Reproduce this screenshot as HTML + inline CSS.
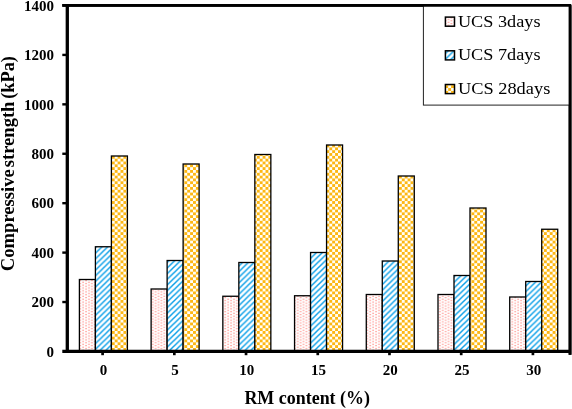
<!DOCTYPE html>
<html lang="en"><head><meta charset="utf-8"><title>UCS vs RM content</title>
<style>html,body{margin:0;padding:0;background:#fff;}body{width:572px;height:409px;overflow:hidden;}svg{display:block;}text{font-family:"Liberation Serif","Times New Roman",serif;fill:#000;}</style>
</head><body>
<svg width="572" height="409" viewBox="0 0 572 409">
<defs>
<pattern id="pd" width="5.8" height="2.825" patternUnits="userSpaceOnUse" x="79.2" y="0.4"><rect width="5.8" height="2.825" fill="#fffefe"/><rect x="0.5" y="0.25" width="1.05" height="0.85" fill="#ff3a2e"/><rect x="3.4" y="1.6625" width="1.05" height="0.85" fill="#ff3a2e"/></pattern>
<pattern id="ps" width="5.8" height="5.65" patternUnits="userSpaceOnUse" x="0" y="1.5"><rect width="5.8" height="5.65" fill="#fff"/><path d="M-5.8,5.65 L5.8,-5.65 M-5.8,11.3 L11.6,-5.65 M0,11.3 L11.6,0" stroke="#0a9fe8" stroke-width="1.45"/></pattern>
<pattern id="pc" width="5.8" height="5.65" patternUnits="userSpaceOnUse" x="1.6" y="0.5"><rect width="5.8" height="5.65" fill="#fdb714"/><rect x="0" y="0" width="2.9" height="2.825" fill="#fffef8"/><rect x="2.9" y="2.825" width="2.9" height="2.825" fill="#fffef8"/></pattern>
</defs>
<rect width="572" height="409" fill="#fff"/>
<rect x="79.40" y="279.50" width="16" height="71.95" fill="url(#pd)" stroke="#000" stroke-width="1.3"/>
<rect x="95.40" y="246.75" width="16" height="104.70" fill="url(#ps)" stroke="#000" stroke-width="1.3"/>
<rect x="111.40" y="156.00" width="16" height="195.45" fill="url(#pc)" stroke="#000" stroke-width="1.3"/>
<rect x="151.12" y="289.00" width="16" height="62.45" fill="url(#pd)" stroke="#000" stroke-width="1.3"/>
<rect x="167.12" y="260.50" width="16" height="90.95" fill="url(#ps)" stroke="#000" stroke-width="1.3"/>
<rect x="183.12" y="164.00" width="16" height="187.45" fill="url(#pc)" stroke="#000" stroke-width="1.3"/>
<rect x="222.84" y="296.25" width="16" height="55.20" fill="url(#pd)" stroke="#000" stroke-width="1.3"/>
<rect x="238.84" y="262.50" width="16" height="88.95" fill="url(#ps)" stroke="#000" stroke-width="1.3"/>
<rect x="254.84" y="154.50" width="16" height="196.95" fill="url(#pc)" stroke="#000" stroke-width="1.3"/>
<rect x="294.56" y="295.75" width="16" height="55.70" fill="url(#pd)" stroke="#000" stroke-width="1.3"/>
<rect x="310.56" y="252.50" width="16" height="98.95" fill="url(#ps)" stroke="#000" stroke-width="1.3"/>
<rect x="326.56" y="145.00" width="16" height="206.45" fill="url(#pc)" stroke="#000" stroke-width="1.3"/>
<rect x="366.28" y="294.50" width="16" height="56.95" fill="url(#pd)" stroke="#000" stroke-width="1.3"/>
<rect x="382.28" y="261.00" width="16" height="90.45" fill="url(#ps)" stroke="#000" stroke-width="1.3"/>
<rect x="398.28" y="176.00" width="16" height="175.45" fill="url(#pc)" stroke="#000" stroke-width="1.3"/>
<rect x="438.00" y="294.50" width="16" height="56.95" fill="url(#pd)" stroke="#000" stroke-width="1.3"/>
<rect x="454.00" y="275.50" width="16" height="75.95" fill="url(#ps)" stroke="#000" stroke-width="1.3"/>
<rect x="470.00" y="208.00" width="16" height="143.45" fill="url(#pc)" stroke="#000" stroke-width="1.3"/>
<rect x="509.72" y="297.00" width="16" height="54.45" fill="url(#pd)" stroke="#000" stroke-width="1.3"/>
<rect x="525.72" y="281.50" width="16" height="69.95" fill="url(#ps)" stroke="#000" stroke-width="1.3"/>
<rect x="541.72" y="229.25" width="16" height="122.20" fill="url(#pc)" stroke="#000" stroke-width="1.3"/>
<g stroke="#000" fill="none" stroke-linecap="butt">
<path d="M67.3,4 V353" stroke-width="3.3"/>
<path d="M62.3,5.4 H570.05 V354.7" stroke-width="2.8" stroke-linejoin="round"/>
<path d="M62.3,351.34999999999997 H570" stroke-width="3.05"/>
<path d="M62.3,302.03 H67" stroke-width="2.4"/>
<path d="M62.3,252.61 H67" stroke-width="2.4"/>
<path d="M62.3,203.19 H67" stroke-width="2.4"/>
<path d="M62.3,153.76 H67" stroke-width="2.4"/>
<path d="M62.3,104.34 H67" stroke-width="2.4"/>
<path d="M62.3,54.92 H67" stroke-width="2.4"/>
<path d="M102.60,351.45 V355.2" stroke-width="2.7"/>
<path d="M174.32,351.45 V355.2" stroke-width="2.7"/>
<path d="M246.04,351.45 V355.2" stroke-width="2.7"/>
<path d="M317.76,351.45 V355.2" stroke-width="2.7"/>
<path d="M389.48,351.45 V355.2" stroke-width="2.7"/>
<path d="M461.20,351.45 V355.2" stroke-width="2.7"/>
<path d="M532.92,351.45 V355.2" stroke-width="2.7"/>
</g>
<text x="54" y="356.65" font-size="15" font-weight="bold" text-anchor="end">0</text>
<text x="54" y="307.23" font-size="15" font-weight="bold" text-anchor="end">200</text>
<text x="54" y="257.81" font-size="15" font-weight="bold" text-anchor="end">400</text>
<text x="54" y="208.39" font-size="15" font-weight="bold" text-anchor="end">600</text>
<text x="54" y="158.96" font-size="15" font-weight="bold" text-anchor="end">800</text>
<text x="54" y="109.54" font-size="15" font-weight="bold" text-anchor="end">1000</text>
<text x="54" y="60.12" font-size="15" font-weight="bold" text-anchor="end">1200</text>
<text x="54" y="10.70" font-size="15" font-weight="bold" text-anchor="end">1400</text>
<text x="103.40" y="374.5" font-size="15" font-weight="bold" text-anchor="middle">0</text>
<text x="175.12" y="374.5" font-size="15" font-weight="bold" text-anchor="middle">5</text>
<text x="246.84" y="374.5" font-size="15" font-weight="bold" text-anchor="middle">10</text>
<text x="318.56" y="374.5" font-size="15" font-weight="bold" text-anchor="middle">15</text>
<text x="390.28" y="374.5" font-size="15" font-weight="bold" text-anchor="middle">20</text>
<text x="462.00" y="374.5" font-size="15" font-weight="bold" text-anchor="middle">25</text>
<text x="533.72" y="374.5" font-size="15" font-weight="bold" text-anchor="middle">30</text>
<text x="244.4" y="404.1" font-size="18" font-weight="bold" textLength="125.6" lengthAdjust="spacingAndGlyphs">RM content (%)</text>
<text transform="translate(14,271.3) rotate(-90)" font-size="18.3" font-weight="bold" textLength="102.2" lengthAdjust="spacingAndGlyphs">Compressive</text>
<text transform="translate(14,167.2) rotate(-90)" font-size="18.3" font-weight="bold" textLength="65.6" lengthAdjust="spacingAndGlyphs">strength</text>
<text transform="translate(14,98.8) rotate(-90)" font-size="18.3" font-weight="bold" textLength="42.7" lengthAdjust="spacingAndGlyphs">(kPa)</text>
<rect x="423.4" y="5" width="146" height="100.1" fill="#fff" stroke="#222" stroke-width="1"/>
<path d="M62.3,5.4 H570.05 V354.7" stroke="#000" fill="none" stroke-width="2.8" stroke-linejoin="round"/>
<rect x="445.4" y="17.10" width="9.1" height="9.1" fill="url(#pd)" stroke="#000" stroke-width="1.5"/>
<text x="457.9" y="26.50" font-size="17.5" textLength="82.6" lengthAdjust="spacingAndGlyphs">UCS 3days</text>
<rect x="445.4" y="50.80" width="9.1" height="9.1" fill="url(#ps)" stroke="#000" stroke-width="1.5"/>
<text x="457.9" y="60.20" font-size="17.5" textLength="82.6" lengthAdjust="spacingAndGlyphs">UCS 7days</text>
<rect x="445.4" y="84.50" width="9.1" height="9.1" fill="url(#pc)" stroke="#000" stroke-width="1.5"/>
<text x="457.9" y="93.90" font-size="17.5" textLength="92.4" lengthAdjust="spacingAndGlyphs">UCS 28days</text>
</svg>
</body></html>
